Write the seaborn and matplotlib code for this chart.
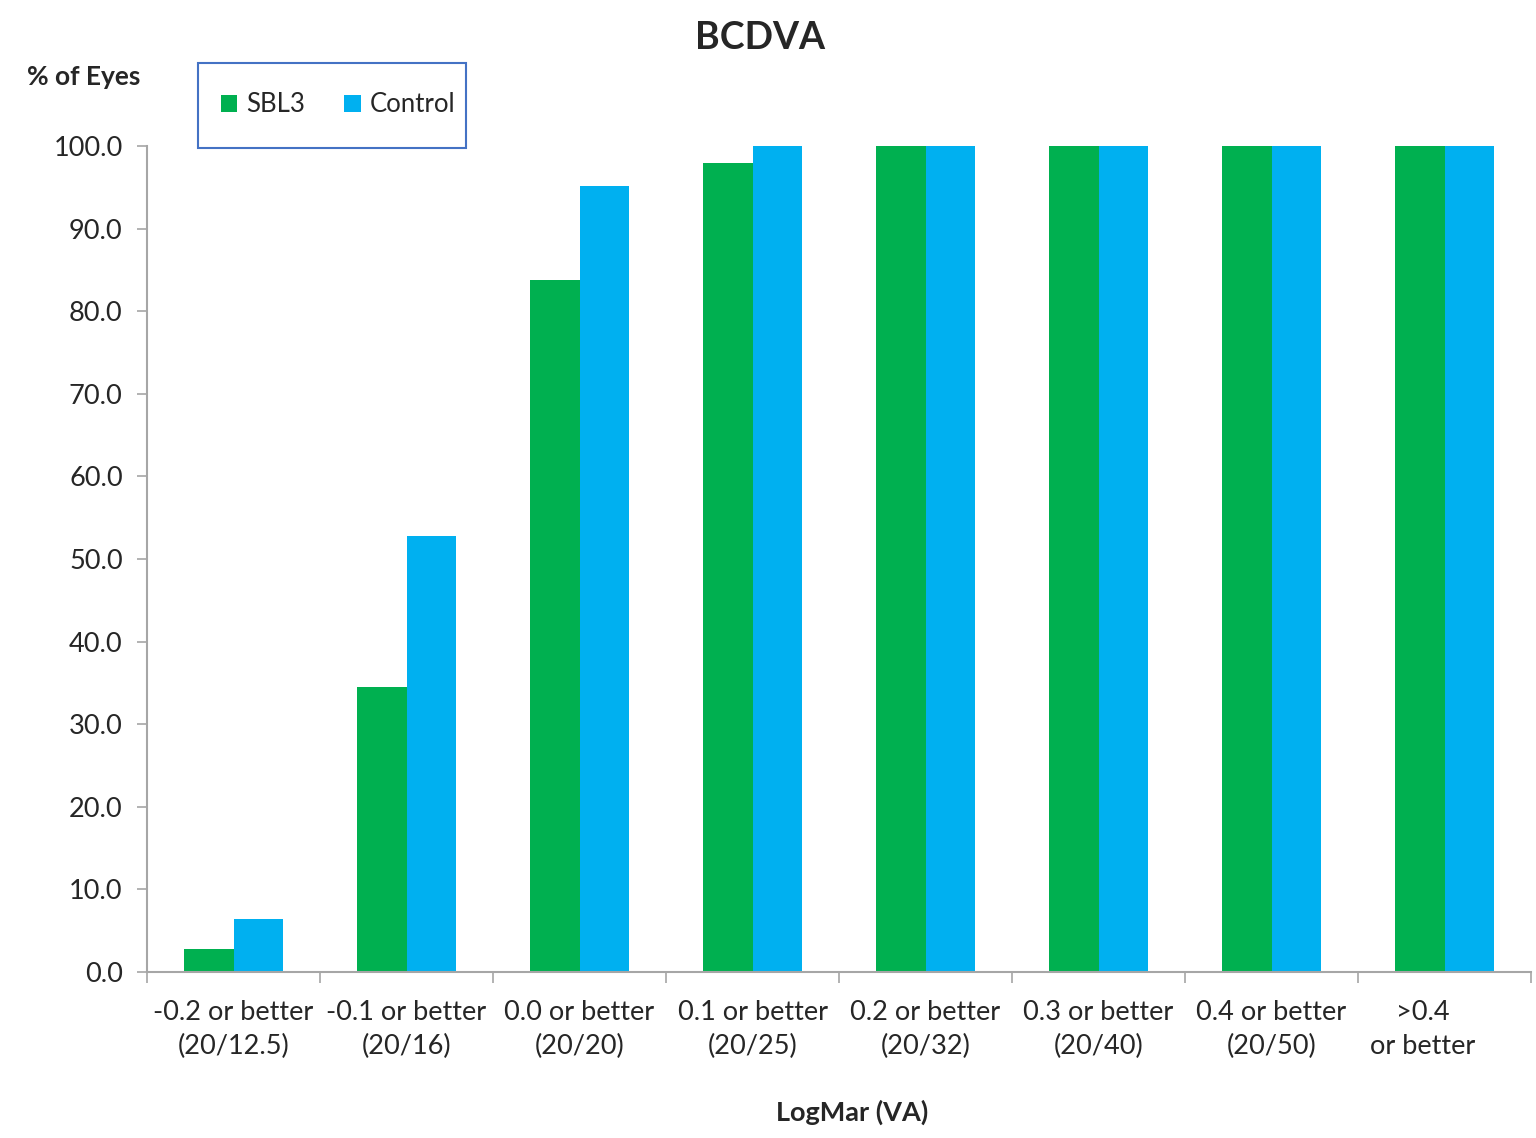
import numpy as np
import pandas as pd
import matplotlib
matplotlib.use("Agg")
import matplotlib.pyplot as plt
import seaborn as sns
from matplotlib.ticker import FixedLocator
from matplotlib.patches import Rectangle
from matplotlib.transforms import ScaledTranslation

categories = ["-0.2 or better\n(20/12.5)", "-0.1 or better\n(20/16)", "0.0 or better\n(20/20)",
              "0.1 or better\n(20/25)", "0.2 or better\n(20/32)", "0.3 or better\n(20/40)",
              "0.4 or better\n(20/50)", ">0.4\nor better"]
sbl3 = [2.8, 34.5, 83.8, 97.9, 100.0, 100.0, 100.0, 100.0]
control = [6.4, 52.8, 95.1, 100.0, 100.0, 100.0, 100.0, 100.0]
series_names = ["SBL3", "Control"]
yticks = [0, 10, 20, 30, 40, 50, 60, 70, 80, 90, 100]

df = pd.DataFrame({
    "cat": categories * 2,
    "val": sbl3 + control,
    "series": [series_names[0]] * len(categories) + [series_names[1]] * len(categories),
})

sns.set_theme(style="white")
plt.rcParams['font.family'] = ['Lato', 'DejaVu Sans']

fig = plt.figure(figsize=(15.36, 11.38), dpi=100)
ax = fig.add_axes([147/1536, 1 - 972/1138, (1531-147)/1536, (972-146)/1138])

palette = {"SBL3": "#00B050", "Control": "#00B0F0"}
sns.barplot(data=df, x="cat", y="val", hue="series", palette=palette, width=0.575,
            saturation=1, ax=ax, legend=True, linewidth=0)

ax.set_ylim(0, 100)
ax.set_xlim(-0.5, len(categories) - 0.5)
ax.set_yticks(yticks)
ax.set_yticklabels([f"{v:.1f}" for v in yticks], fontsize=19.5)
ax.tick_params(axis="y", length=7, width=1.2, color="#A6A6A6", left=True, direction="out", pad=10.5)
ax.set_xticks(range(len(categories)))
ax.set_xticklabels(categories, fontsize=19.5, linespacing=1.45)
ax.tick_params(axis="x", which="major", length=0, pad=20)
ax.xaxis.set_minor_locator(FixedLocator(np.arange(-0.5, len(categories), 1.0)))
ax.tick_params(axis="x", which="minor", length=8, width=1.2, color="#A6A6A6", bottom=True, direction="out")

last = ax.get_xticklabels()[-1]
last.set_transform(last.get_transform() + ScaledTranslation(-0.22, 0, fig.dpi_scale_trans))

for s in ["top", "right"]:
    ax.spines[s].set_visible(False)
for s in ["left", "bottom"]:
    ax.spines[s].set_color("#A6A6A6")
    ax.spines[s].set_linewidth(1.5)

ax.set_xlabel("")
ax.set_ylabel("")
fig.text(760/1536, 1 - 38/1138, "BCDVA", ha="center", va="center", fontsize=27, fontweight="bold")
fig.text(84/1536, 1 - 77/1138, "% of Eyes", ha="center", va="center", fontsize=19, fontweight="bold")
fig.text(852/1536, 1 - 1112/1138, "LogMar (VA)", ha="center", va="center", fontsize=19.5, fontweight="bold")

handles, labels = ax.get_legend_handles_labels()
ax.legend_.remove()
leg = fig.legend(handles, labels, ncol=2, loc="center", bbox_to_anchor=(338/1536, 1 - 105/1138),
                 fontsize=18.5, frameon=False, handlelength=0.65, handleheight=0.65,
                 handletextpad=0.35, columnspacing=1.5, borderpad=0.5)
fig.patches.append(Rectangle((198/1536, 1 - 148/1138), (466-198)/1536, (148-63)/1138,
                             transform=fig.transFigure, fill=False, edgecolor="#4472C4",
                             linewidth=1.5, figure=fig))

fig.savefig("out.png", dpi=100)
